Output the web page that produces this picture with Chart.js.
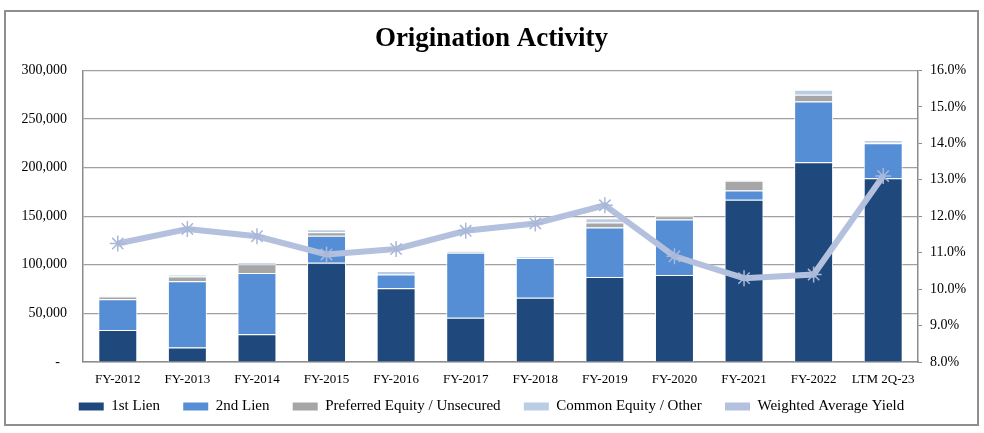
<!DOCTYPE html>
<html>
<head>
<meta charset="utf-8">
<script src="https://cdn.jsdelivr.net/npm/chart.js@4"></script>
<style>
body { margin: 0; background: #fff; }
#box {
  position: absolute; left: 4px; top: 10px;
  width: 975px; height: 416px;
  border: 2px solid #8e8e8e; box-sizing: border-box;
}
canvas { display: block; }
</style>
</head>
<body>
<div id="box"><canvas id="c" width="971" height="412"></canvas></div>
<script>
const years = ['FY-2012', 'FY-2013', 'FY-2014', 'FY-2015', 'FY-2016', 'FY-2017',
  'FY-2018', 'FY-2019', 'FY-2020', 'FY-2021', 'FY-2022', 'LTM 2Q-23'];

const firstLien = [33000, 15000, 28500, 102000, 76000, 45500, 66000, 87500, 89500, 167000, 205500, 189000];
const secondLien = [31500, 68000, 63000, 28000, 14000, 67000, 41000, 51000, 57000, 9500, 62500, 36000];
const preferred = [3000, 5000, 9000, 3500, 0, 1000, 0, 5000, 3500, 10000, 7000, 500];
const common = [500, 2000, 2000, 3000, 3500, 500, 1500, 4500, 500, 500, 5000, 3000];
const yieldPct = [11.25, 11.65, 11.45, 10.95, 11.1, 11.6, 11.8, 12.3, 10.9, 10.3, 10.4, 13.1];

const serif = 'Liberation Serif';
Chart.defaults.font.family = serif;
Chart.defaults.color = '#000';

function bar(label, data, color) {
  return {
    type: 'bar', label: label, data: data,
    backgroundColor: color, borderColor: '#ffffff', borderWidth: 1,
    yAxisID: 'y', stack: 's',
    categoryPercentage: 1, barPercentage: 0.56
  };
}

const defaultLabels = Chart.defaults.plugins.legend.labels.generateLabels;

new Chart(document.getElementById('c'), {
  data: {
    labels: years,
    datasets: [
      bar('1st Lien', firstLien, '#1f497d'),
      bar('2nd Lien', secondLien, '#558ed5'),
      bar('Preferred Equity / Unsecured', preferred, '#a6a6a6'),
      bar('Common Equity / Other', common, '#b9cde5'),
      {
        type: 'line', label: 'Weighted Average Yield', data: yieldPct,
        yAxisID: 'y1', order: -1,
        borderColor: '#b4c1de', backgroundColor: '#b4c1de', borderWidth: 6,
        pointStyle: 'star', pointRadius: 8, pointBorderWidth: 1.5,
        pointBorderColor: '#a9b8d8', pointBackgroundColor: '#a9b8d8',
        tension: 0
      }
    ]
  },
  options: {
    responsive: false,
    animation: false,
    layout: { padding: { left: 0, right: 0, top: 0, bottom: 0 } },
    plugins: {
      title: {
        display: true, text: 'Origination Activity',
        font: { size: 27, weight: 'bold', family: serif },
        padding: { top: 11, bottom: 15 }
      },
      legend: {
        position: 'bottom',
        labels: {
          boxWidth: 25, boxHeight: 8, padding: 12,
          font: { size: 15, family: serif },
          sort: (a, b) => a.datasetIndex - b.datasetIndex,
          // extra gap between items without a taller legend box
          generateLabels: chart => defaultLabels(chart).map(l => {
            if (l.datasetIndex !== 4) l.text = l.text + '   ';
            l.lineWidth = 0;
            return l;
          })
        }
      },
      tooltip: { enabled: false }
    },
    scales: {
      x: {
        grid: { display: false },
        border: { color: '#8c8c8c', width: 1.5 },
        ticks: { font: { size: 13 }, padding: 2, maxRotation: 0, autoSkip: false },
        afterFit: s => { s.height = 25; }
      },
      y: {
        stacked: true, min: 0, max: 300000,
        ticks: {
          stepSize: 50000, padding: 16, font: { size: 14 },
          callback: v => v === 0 ? '-  ' : v.toLocaleString('en-US')
        },
        grid: { color: '#a0a0a0', lineWidth: 1.2, drawTicks: false },
        border: { color: '#8c8c8c', width: 1.5 },
        afterFit: s => { s.width = 77; }
      },
      y1: {
        position: 'right', min: 8, max: 16,
        ticks: {
          stepSize: 1, padding: 8, font: { size: 14 },
          callback: v => v.toFixed(1) + '%'
        },
        grid: { drawOnChartArea: false, tickLength: 4, color: '#8c8c8c' },
        border: { color: '#8c8c8c', width: 1.5 },
        afterFit: s => { s.width = 59; }
      }
    }
  }
});
</script>
</body>
</html>
